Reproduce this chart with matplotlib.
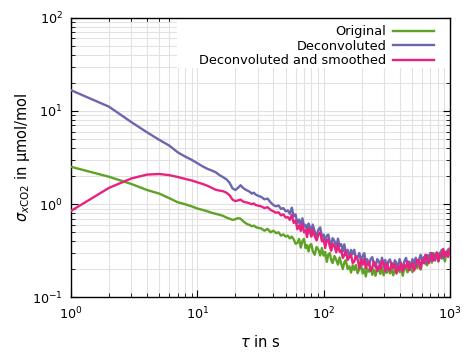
import matplotlib
matplotlib.use("Agg")
import matplotlib.pyplot as plt
from matplotlib.patches import Rectangle

# averaging time tau in s
tau = [1, 2, 3, 4, 5, 6, 7, 8, 9, 10, 11, 12, 13, 14, 15, 16, 17, 18, 19, 20,
       21, 22, 23, 24, 25, 26, 27, 28, 29, 30,
       32, 34, 36, 38, 40, 42, 44, 46, 48, 50, 52, 54, 56, 58,
       60, 62, 64, 66, 68, 70, 72, 74, 76, 78, 80, 82,
       85, 88, 91, 94, 97, 100, 103, 106, 109, 112, 115, 118,
       122, 126, 130, 134, 138, 142, 146, 150,
       155, 160, 165, 170, 175, 180,
       186, 192, 198, 204, 210, 216, 222,
       229, 236, 243, 250,
       258, 266, 274, 282, 290,
       299, 308, 317, 326,
       336, 346, 356,
       367, 378, 389, 400,
       412, 424, 437, 450, 463, 477, 491,
       506, 521, 537, 553, 570, 587, 604,
       622, 641, 660, 680, 700,
       721, 743, 765, 788, 812, 836, 861, 887, 914, 941, 969, 1000]

original = [2.52, 1.97, 1.65, 1.42, 1.30, 1.16, 1.05, 1.00, 0.95, 0.90,
            0.87, 0.84, 0.81, 0.79, 0.77, 0.75, 0.72, 0.70, 0.68, 0.69,
            0.71, 0.70, 0.66, 0.63, 0.61, 0.60, 0.58, 0.59, 0.57, 0.56,
            0.55, 0.52, 0.545, 0.50, 0.52, 0.49, 0.50, 0.46, 0.475, 0.45, 0.46, 0.43, 0.45, 0.42,
            0.377, 0.384, 0.425, 0.343, 0.403, 0.426, 0.339, 0.364, 0.312, 0.364, 0.374, 0.315,
            0.287, 0.348, 0.326, 0.282, 0.339, 0.281, 0.308, 0.241, 0.289, 0.300, 0.252, 0.234,
            0.278, 0.253, 0.225, 0.269, 0.230, 0.202, 0.239, 0.251,
            0.202, 0.216, 0.185, 0.222, 0.197, 0.223,
            0.182, 0.202, 0.221, 0.181, 0.202, 0.168, 0.205,
            0.189, 0.211, 0.175, 0.200,
            0.171, 0.207, 0.196, 0.179, 0.213,
            0.173, 0.198, 0.184, 0.205,
            0.181, 0.206, 0.173,
            0.201, 0.182, 0.224, 0.187,
            0.200, 0.171, 0.216, 0.202, 0.186, 0.228, 0.201,
            0.187, 0.227, 0.246, 0.206, 0.235, 0.199, 0.252,
            0.268, 0.236, 0.221, 0.272, 0.261,
            0.236, 0.299, 0.260, 0.281, 0.244, 0.304, 0.260, 0.288, 0.244, 0.311, 0.289, 0.333]

deconvoluted = [16.7, 11.1, 7.6, 5.9, 4.9, 4.25, 3.6, 3.25, 3.0, 2.75,
                2.55, 2.40, 2.30, 2.20, 2.05, 1.95, 1.85, 1.70, 1.48, 1.42,
                1.50, 1.60, 1.50, 1.44, 1.40, 1.36, 1.30, 1.33, 1.27, 1.24,
                1.20, 1.13, 1.15, 1.05, 0.98, 0.95, 0.97, 0.89, 0.91, 0.84, 0.86, 0.79, 0.92, 0.74,
                0.778, 0.621, 0.686, 0.592, 0.707, 0.576, 0.602, 0.505, 0.621, 0.566, 0.506, 0.605,
                0.514, 0.458, 0.535, 0.565, 0.446, 0.474, 0.383, 0.462, 0.473, 0.399, 0.361, 0.433,
                0.403, 0.350, 0.428, 0.358, 0.373, 0.311, 0.372, 0.306,
                0.324, 0.267, 0.324, 0.292, 0.325, 0.262,
                0.269, 0.300, 0.240, 0.281, 0.299, 0.239, 0.257,
                0.220, 0.258, 0.271, 0.230,
                0.211, 0.258, 0.244, 0.216, 0.267,
                0.228, 0.253, 0.200, 0.244,
                0.256, 0.219, 0.207,
                0.251, 0.232, 0.212, 0.258,
                0.225, 0.203, 0.246, 0.266, 0.220, 0.242, 0.211,
                0.258, 0.231, 0.267, 0.224, 0.255, 0.287, 0.240,
                0.271, 0.230, 0.286, 0.266, 0.301,
                0.251, 0.289, 0.249, 0.305, 0.291, 0.269, 0.324, 0.266, 0.308, 0.291, 0.328, 0.295]

smoothed = [0.85, 1.50, 1.89, 2.08, 2.11, 2.05, 1.96, 1.87, 1.80, 1.72,
            1.65, 1.58, 1.50, 1.43, 1.40, 1.38, 1.33, 1.25, 1.12, 1.08,
            1.10, 1.12, 1.07, 1.05, 1.04, 1.02, 1.00, 1.02, 0.98, 0.97,
            0.95, 0.91, 0.93, 0.87, 0.84, 0.81, 0.82, 0.76, 0.78, 0.72, 0.73, 0.68, 0.77, 0.63,
            0.670, 0.540, 0.593, 0.517, 0.615, 0.499, 0.525, 0.444, 0.550, 0.505, 0.451, 0.538,
            0.456, 0.409, 0.477, 0.497, 0.400, 0.422, 0.340, 0.410, 0.418, 0.352, 0.317, 0.380,
            0.352, 0.305, 0.371, 0.309, 0.320, 0.266, 0.284, 0.314,
            0.253, 0.273, 0.289, 0.234, 0.242, 0.278,
            0.257, 0.206, 0.254, 0.225, 0.260, 0.207, 0.231,
            0.240, 0.193, 0.208, 0.242,
            0.228, 0.192, 0.219, 0.201, 0.247,
            0.228, 0.190, 0.232, 0.204,
            0.195, 0.236, 0.209,
            0.227, 0.181, 0.216, 0.197,
            0.234, 0.191, 0.223, 0.209, 0.244, 0.196, 0.221,
            0.234, 0.195, 0.215, 0.253, 0.247, 0.204, 0.252,
            0.233, 0.287, 0.273, 0.233, 0.257,
            0.300, 0.249, 0.277, 0.302, 0.244, 0.289, 0.275, 0.332, 0.275, 0.309, 0.272, 0.333]

labels = ["Original", "Deconvoluted", "Deconvoluted and smoothed"]
colors = ["#5ea226", "#6c66ae", "#e8237f"]

plt.rcParams["font.family"] = "DejaVu Sans"
plt.rcParams["mathtext.fontset"] = "dejavusans"

fig = plt.figure(figsize=(4.74, 3.55), dpi=100)
ax = fig.add_axes([0.150, 0.162, 0.799, 0.788])

for y, lab, c in zip([original, deconvoluted, smoothed], labels, colors):
    ax.plot(tau, y, color=c, lw=1.7, label=lab, zorder=3)

ax.set_xscale("log")
ax.set_yscale("log")
ax.set_xlim(1, 1000)
ax.set_ylim(0.1, 100)

# grid
ax.grid(True, which="both", color="#e2e2e2", lw=0.8)
ax.set_axisbelow(True)

ax.tick_params(which="both", direction="in", top=True, right=True, labelsize=9.2)
ax.tick_params(which="major", length=5, pad=6)
ax.tick_params(which="minor", length=3)
for s in ax.spines.values():
    s.set_linewidth(1.0)

ax.set_xlabel(r"$\tau$ in s", fontsize=10.5, labelpad=8)
ax.set_ylabel(r"$\sigma_{x\mathrm{CO2}}$ in µmol/mol", fontsize=10.5, labelpad=0)

# white key background hiding the grid
ax.add_patch(Rectangle((0.28, 0.82), 0.72, 0.18, transform=ax.transAxes,
                       facecolor="white", edgecolor="none", zorder=1.5))

leg = ax.legend(loc="upper right", bbox_to_anchor=(0.958, 0.974), markerfirst=False,
                fontsize=9.3, handlelength=3.2, handletextpad=0.5,
                labelspacing=0.12, borderaxespad=0, borderpad=0, frameon=False)

fig.savefig("out.png", dpi=100)
